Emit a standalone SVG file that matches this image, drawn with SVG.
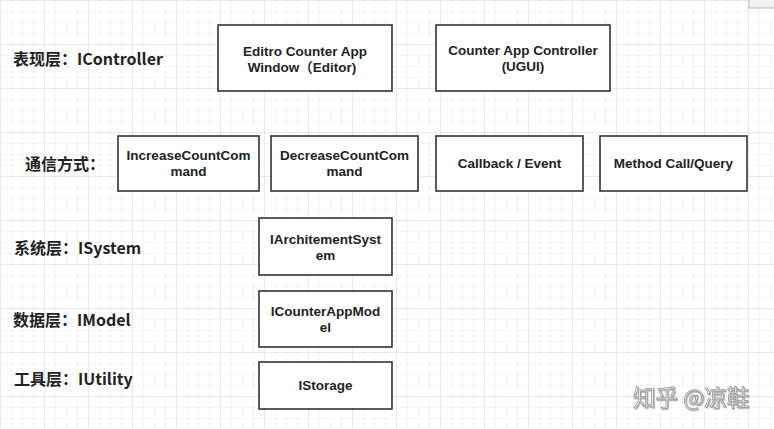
<svg xmlns="http://www.w3.org/2000/svg" width="774" height="429" viewBox="0 0 774 429">
<defs>
<pattern id="minor" width="11" height="11" patternUnits="userSpaceOnUse" x="1" y="1">
<path d="M11 0V11M0 11H11" fill="none" stroke="#ececec" stroke-width="1"/>
</pattern>
<pattern id="major" width="44" height="44" patternUnits="userSpaceOnUse" x="1" y="1">
<path d="M44 0V44M0 44H44" fill="none" stroke="#dcdcdc" stroke-width="1"/>
</pattern>
<filter id="sh" x="-10%" y="-10%" width="120%" height="130%">
<feDropShadow dx="1" dy="1" stdDeviation="0.6" flood-color="#888" flood-opacity="0.6"/>
</filter>
</defs>
<style>
.box{fill:#fff;stroke:#333;stroke-width:1.6}
.t{font-family:"Liberation Sans","Noto Sans CJK SC",sans-serif;font-weight:bold;font-size:13.5px;fill:#222;text-anchor:middle}
.lbl{font-family:"Noto Sans CJK SC","Noto Sans",sans-serif;font-weight:bold;font-size:16px;fill:#222;dominant-baseline:central}
.wm{font-family:"Noto Sans CJK SC",sans-serif;font-size:22.5px;fill:#f4f4f4;stroke:#999;stroke-width:0.8;filter:url(#sh)}
</style>
<rect width="774" height="429" fill="#fff"/>
<rect width="774" height="429" fill="url(#minor)"/>
<rect width="774" height="429" fill="url(#major)"/>
<rect x="749" y="-2" width="30" height="10" fill="#f2f2f2" stroke="#bbb" stroke-width="1"/>

<g id="labels">
<text class="lbl" x="13" y="58">表现层：IController</text>
<text class="lbl" x="25" y="163">通信方式：</text>
<text class="lbl" x="14" y="247">系统层：ISystem</text>
<text class="lbl" x="13" y="319">数据层：IModel</text>
<text class="lbl" x="14" y="378">工具层：IUtility</text>
</g>

<g id="editor-window">
<rect class="box" x="218" y="25" width="174" height="66"/>
<text class="t" y="56"><tspan x="305">Editro Counter App</tspan><tspan x="302" dy="16">Window（Editor)</tspan></text>
</g>
<g id="app-controller">
<rect class="box" x="436" y="25" width="174" height="66"/>
<text class="t" y="55"><tspan x="523">Counter App Controller</tspan><tspan x="523" dy="16">(UGUI)</tspan></text>
</g>
<g id="increase-cmd">
<rect class="box" x="118" y="136" width="141" height="55"/>
<text class="t" y="160"><tspan x="188.5">IncreaseCountCom</tspan><tspan x="188.5" dy="16">mand</tspan></text>
</g>
<g id="decrease-cmd">
<rect class="box" x="271" y="136" width="147" height="55"/>
<text class="t" y="160"><tspan x="344.5">DecreaseCountCom</tspan><tspan x="344.5" dy="16">mand</tspan></text>
</g>
<g id="callback-event">
<rect class="box" x="436" y="136" width="147" height="55"/>
<text class="t" x="509.5" y="168">Callback / Event</text>
</g>
<g id="method-call">
<rect class="box" x="600" y="136" width="147" height="55"/>
<text class="t" x="673.5" y="168">Method Call/Query</text>
</g>
<g id="system">
<rect class="box" x="259" y="218" width="133" height="57"/>
<text class="t" y="244"><tspan x="325.5">IArchitementSyst</tspan><tspan x="325.5" dy="16">em</tspan></text>
</g>
<g id="model">
<rect class="box" x="259" y="291" width="133" height="56"/>
<text class="t" y="316"><tspan x="325.5">ICounterAppMod</tspan><tspan x="325.5" dy="16">el</tspan></text>
</g>
<g id="storage">
<rect class="box" x="259" y="362" width="133" height="47"/>
<text class="t" x="325.5" y="390">IStorage</text>
</g>
<g id="connectors"></g>
<text class="wm" x="633" y="406">知乎 @凉鞋</text>
</svg>
